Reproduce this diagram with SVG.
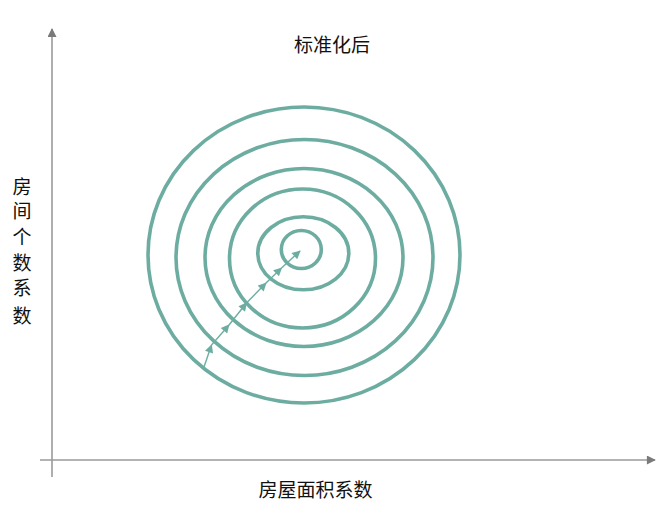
<svg xmlns="http://www.w3.org/2000/svg" width="668" height="507" viewBox="0 0 668 507">
<style>
.ring{fill:none;stroke:#6dada1;stroke-width:3.6}
.axis{stroke:#9a9a9a;stroke-width:1.6;fill:none}
.step{stroke:#6dada1;stroke-width:1.4;fill:none;marker-end:url(#tealHead)}
.lbl{font-family:"Liberation Sans","Noto Sans CJK SC",sans-serif;font-size:19px;fill:#111111}
</style>
<defs>
<marker id="axisHead" viewBox="0 0 10 10" refX="9" refY="5" markerWidth="10" markerHeight="9" markerUnits="userSpaceOnUse" orient="auto">
<path d="M0,0 L10,5 L0,10 Z" fill="#7a7a7a"/>
</marker>
<marker id="tealHead" viewBox="0 0 10 10" refX="9" refY="5" markerWidth="10" markerHeight="8.5" markerUnits="userSpaceOnUse" orient="auto">
<path d="M0,0 L10,5 L0,10 Z" fill="#6dada1"/>
</marker>
</defs>
<rect width="668" height="507" fill="#ffffff"/>
<g id="axes">
<line class="axis" x1="52" y1="477" x2="52" y2="29" marker-end="url(#axisHead)"/>
<line class="axis" x1="40" y1="460" x2="655" y2="460" marker-end="url(#axisHead)"/>
</g>
<g id="rings">
<ellipse id="ring1" class="ring" cx="304" cy="255" rx="156" ry="148"/>
<ellipse id="ring2" class="ring" cx="304.5" cy="257.5" rx="128.5" ry="118"/>
<ellipse id="ring3" class="ring" cx="304" cy="257.5" rx="99" ry="89"/>
<ellipse id="ring4" class="ring" cx="302.5" cy="258.5" rx="73" ry="69.5"/>
<ellipse id="ring5" class="ring" cx="303.3" cy="253.3" rx="45.5" ry="36.5"/>
<ellipse id="ring6" class="ring" cx="301.3" cy="249.5" rx="20" ry="19"/>
</g>
<g id="connectors">
<line class="step" x1="204" y1="367" x2="211.5" y2="345"/>
<line class="step" x1="211.5" y1="345" x2="229" y2="325"/>
<line class="step" x1="229" y1="325" x2="246.5" y2="303"/>
<line class="step" x1="246.5" y1="303" x2="266" y2="283"/>
<line class="step" x1="266" y1="283" x2="281.5" y2="268"/>
<line class="step" x1="281.5" y1="268" x2="300" y2="251"/>
</g>
<g id="labels">
<text class="lbl" x="332" y="52" text-anchor="middle" font-size="20">标准化后</text>
<text class="lbl" x="315.5" y="497" text-anchor="middle">房屋面积系数</text>
<g id="ylabel" text-anchor="middle">
<text class="lbl" x="22" y="193.5">房</text>
<text class="lbl" x="22" y="218">间</text>
<text class="lbl" x="22" y="243.5">个</text>
<text class="lbl" x="22" y="270">数</text>
<text class="lbl" x="22" y="295">系</text>
<text class="lbl" x="22" y="322.5">数</text>
</g>
</g>
</svg>
